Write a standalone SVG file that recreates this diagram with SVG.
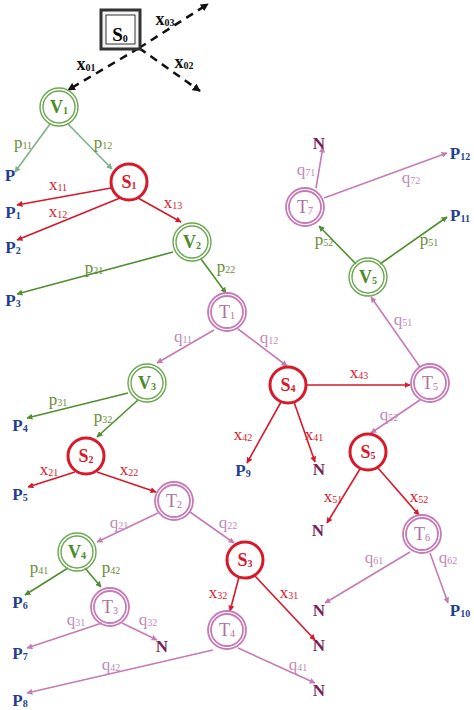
<svg xmlns="http://www.w3.org/2000/svg" width="474" height="710" viewBox="0 0 474 710">
<style>
text{font-family:"Liberation Serif","Times New Roman",serif;text-anchor:middle}
.nl{font-size:18px;font-weight:bold}
.sub{font-size:10px}
.el{font-size:17px}
.pl{font-size:17px;font-weight:bold;fill:#1f3f8f}
.nn{font-size:17px;font-weight:bold;fill:#7a1f5a}
.red{stroke:#d7192a;stroke-width:1.6;fill:none;marker-end:url(#ar)}
.grn{stroke:#4f8f2f;stroke-width:1.6;fill:none;marker-end:url(#ag)}
.lgr{stroke:#7fb08a;stroke-width:1.6;fill:none;marker-end:url(#alg)}
.pnk{stroke:#c77bb5;stroke-width:1.6;fill:none;marker-end:url(#ap)}
.dsh{stroke:#111;stroke-width:2.5;fill:none;stroke-dasharray:8 6;marker-end:url(#ab)}
.sc{fill:#fff;stroke:#d7192a;stroke-width:3}
.vc{fill:none;stroke:#6aa84f;stroke-width:1.4}
.tc{fill:none;stroke:#c77bb5;stroke-width:1.8}
.xl{fill:#d7192a}
.plb{fill:#6b8e3a}
.ql{fill:#c08cb8}
.tl{font-size:18px;fill:#b070a0}
</style>
<defs>
<marker id="ar" viewBox="0 0 10 10" refX="9" refY="5" markerWidth="6" markerHeight="6" orient="auto" markerUnits="userSpaceOnUse"><path d="M0,0L10,5L0,10z" fill="#d7192a"/></marker>
<marker id="ag" viewBox="0 0 10 10" refX="9" refY="5" markerWidth="6" markerHeight="6" orient="auto" markerUnits="userSpaceOnUse"><path d="M0,0L10,5L0,10z" fill="#4f8f2f"/></marker>
<marker id="alg" viewBox="0 0 10 10" refX="9" refY="5" markerWidth="6" markerHeight="6" orient="auto" markerUnits="userSpaceOnUse"><path d="M0,0L10,5L0,10z" fill="#7fb08a"/></marker>
<marker id="ap" viewBox="0 0 10 10" refX="9" refY="5" markerWidth="6" markerHeight="6" orient="auto" markerUnits="userSpaceOnUse"><path d="M0,0L10,5L0,10z" fill="#c77bb5"/></marker>
<marker id="ab" viewBox="0 0 10 10" refX="9" refY="5" markerWidth="8" markerHeight="8" orient="auto" markerUnits="userSpaceOnUse"><path d="M0,0L10,5L0,10z" fill="#111"/></marker>
</defs>
<rect width="474" height="710" fill="#fff"/>
<g id="connectors">
<path class="dsh" d="M139,48L208,4"/>
<path class="dsh" d="M139,48L68,90"/>
<path class="dsh" d="M139,48L200,91"/>
<path class="lgr" d="M50,124L15,172"/>
<path class="lgr" d="M68,124L112,169"/>
<path class="red" d="M111,188L17,205"/>
<path class="red" d="M120,198L17,240"/>
<path class="red" d="M138,198L181,222"/>
<path class="grn" d="M173,252L17,294"/>
<path class="grn" d="M201,259L226,293"/>
<path class="pnk" d="M214,330L157,363"/>
<path class="pnk" d="M238,329L287,366"/>
<path class="grn" d="M128,393L27,418"/>
<path class="grn" d="M138,400L97,437"/>
<path class="red" d="M75,472L28,487"/>
<path class="red" d="M97,472L156,492"/>
<path class="pnk" d="M158,513L97,542"/>
<path class="pnk" d="M190,512L234,543"/>
<path class="grn" d="M68,568L25,595"/>
<path class="grn" d="M85,568L101,587"/>
<path class="pnk" d="M102,623L27,648"/>
<path class="pnk" d="M122,623L157,640"/>
<path class="red" d="M239,577L230,611"/>
<path class="red" d="M255,576L315,640"/>
<path class="pnk" d="M213,650L27,693"/>
<path class="pnk" d="M238,648L315,683"/>
<path class="red" d="M306,385L410,385"/>
<path class="red" d="M281,402L247,463"/>
<path class="red" d="M294,402L315,462"/>
<path class="pnk" d="M420,367L371,297"/>
<path class="pnk" d="M420,400L371,433"/>
<path class="red" d="M360,469L327,523"/>
<path class="red" d="M378,468L419,515"/>
<path class="pnk" d="M410,552L325,603"/>
<path class="pnk" d="M430,553L448,603"/>
<path class="grn" d="M356,264L319,226"/>
<path class="grn" d="M380,264L447,217"/>
<path class="pnk" d="M316,188L323,147"/>
<path class="pnk" d="M324,198L447,153"/>
</g>
<g id="S0">
<rect x="101" y="10" width="39" height="39" fill="#f4f4f4" stroke="#333" stroke-width="3"/>
<rect x="106" y="15" width="29" height="29" fill="#fff" stroke="#333" stroke-width="1"/>
<text x="120" y="41" style="font-size:19px;font-weight:bold">S<tspan class="sub" dy="1">0</tspan></text>
</g>
<g id="V1"><circle class="vc" cx="59" cy="107" r="19"/><circle class="vc" cx="59" cy="107" r="16"/><text class="nl" x="59" y="113" fill="#4a8a2a">V<tspan class="sub" dy="1">1</tspan></text></g>
<g id="S1"><circle class="sc" cx="129" cy="182" r="18"/><text class="nl" x="129" y="188" fill="#d7192a">S<tspan class="sub" dy="1">1</tspan></text></g>
<g id="V2"><circle class="vc" cx="192" cy="242" r="19"/><circle class="vc" cx="192" cy="242" r="16"/><text class="nl" x="192" y="248" fill="#4a8a2a">V<tspan class="sub" dy="1">2</tspan></text></g>
<g id="T1"><circle class="tc" cx="227" cy="312" r="19"/><circle class="tc" cx="227" cy="312" r="16"/><text class="tl" x="227" y="318">T<tspan class="sub" dy="1">1</tspan></text></g>
<g id="V3"><circle class="vc" cx="147" cy="383" r="19"/><circle class="vc" cx="147" cy="383" r="16"/><text class="nl" x="147" y="389" fill="#4a8a2a">V<tspan class="sub" dy="1">3</tspan></text></g>
<g id="S4"><circle class="sc" cx="288" cy="385" r="18"/><text class="nl" x="288" y="391" fill="#d7192a">S<tspan class="sub" dy="1">4</tspan></text></g>
<g id="T5"><circle class="tc" cx="430" cy="383" r="19"/><circle class="tc" cx="430" cy="383" r="16"/><text class="tl" x="430" y="389">T<tspan class="sub" dy="1">5</tspan></text></g>
<g id="V5"><circle class="vc" cx="368" cy="277" r="19"/><circle class="vc" cx="368" cy="277" r="16"/><text class="nl" x="368" y="283" fill="#4a8a2a">V<tspan class="sub" dy="1">5</tspan></text></g>
<g id="T7"><circle class="tc" cx="305" cy="207" r="19"/><circle class="tc" cx="305" cy="207" r="16"/><text class="tl" x="305" y="213">T<tspan class="sub" dy="1">7</tspan></text></g>
<g id="S2"><circle class="sc" cx="86" cy="456" r="18"/><text class="nl" x="86" y="462" fill="#d7192a">S<tspan class="sub" dy="1">2</tspan></text></g>
<g id="T2"><circle class="tc" cx="174" cy="501" r="19"/><circle class="tc" cx="174" cy="501" r="16"/><text class="tl" x="174" y="507">T<tspan class="sub" dy="1">2</tspan></text></g>
<g id="S5"><circle class="sc" cx="368" cy="452" r="18"/><text class="nl" x="368" y="458" fill="#d7192a">S<tspan class="sub" dy="1">5</tspan></text></g>
<g id="V4"><circle class="vc" cx="77" cy="552" r="19"/><circle class="vc" cx="77" cy="552" r="16"/><text class="nl" x="77" y="558" fill="#4a8a2a">V<tspan class="sub" dy="1">4</tspan></text></g>
<g id="S3"><circle class="sc" cx="245" cy="560" r="18"/><text class="nl" x="245" y="566" fill="#d7192a">S<tspan class="sub" dy="1">3</tspan></text></g>
<g id="T3"><circle class="tc" cx="110" cy="607" r="19"/><circle class="tc" cx="110" cy="607" r="16"/><text class="tl" x="110" y="613">T<tspan class="sub" dy="1">3</tspan></text></g>
<g id="T4"><circle class="tc" cx="227" cy="630" r="19"/><circle class="tc" cx="227" cy="630" r="16"/><text class="tl" x="227" y="636">T<tspan class="sub" dy="1">4</tspan></text></g>
<g id="T6"><circle class="tc" cx="422" cy="534" r="19"/><circle class="tc" cx="422" cy="534" r="16"/><text class="tl" x="422" y="540">T<tspan class="sub" dy="1">6</tspan></text></g>
<g id="terminals">
<text class="pl" x="10" y="181">P</text>
<text class="pl" x="13" y="218">P<tspan class="sub" dy="1">1</tspan></text>
<text class="pl" x="13" y="253">P<tspan class="sub" dy="1">2</tspan></text>
<text class="pl" x="13" y="306">P<tspan class="sub" dy="1">3</tspan></text>
<text class="pl" x="20" y="431">P<tspan class="sub" dy="1">4</tspan></text>
<text class="pl" x="20" y="500">P<tspan class="sub" dy="1">5</tspan></text>
<text class="pl" x="20" y="608">P<tspan class="sub" dy="1">6</tspan></text>
<text class="pl" x="20" y="659">P<tspan class="sub" dy="1">7</tspan></text>
<text class="pl" x="20" y="706">P<tspan class="sub" dy="1">8</tspan></text>
<text class="pl" x="243" y="476">P<tspan class="sub" dy="1">9</tspan></text>
<text class="pl" x="460" y="616">P<tspan class="sub" dy="1">10</tspan></text>
<text class="pl" x="460" y="221">P<tspan class="sub" dy="1">11</tspan></text>
<text class="pl" x="460" y="159">P<tspan class="sub" dy="1">12</tspan></text>
<text class="nn" x="319" y="149">N</text>
<text class="nn" x="319" y="475">N</text>
<text class="nn" x="318" y="536">N</text>
<text class="nn" x="319" y="616">N</text>
<text class="nn" x="162" y="652">N</text>
<text class="nn" x="319" y="651">N</text>
<text class="nn" x="319" y="696">N</text>
</g>
<g id="labels">
<text x="165" y="25" style="font-size:18px;font-weight:bold" fill="#111">x<tspan class="sub" dy="1">03</tspan></text>
<text x="86" y="70" style="font-size:18px;font-weight:bold" fill="#111">x<tspan class="sub" dy="1">01</tspan></text>
<text x="184" y="68" style="font-size:18px;font-weight:bold" fill="#111">x<tspan class="sub" dy="1">02</tspan></text>
<text class="el plb" x="23" y="148">p<tspan class="sub" dy="1">11</tspan></text>
<text class="el plb" x="103" y="148">p<tspan class="sub" dy="1">12</tspan></text>
<text class="el xl" x="58" y="190">x<tspan class="sub" dy="1">11</tspan></text>
<text class="el xl" x="58" y="217">x<tspan class="sub" dy="1">12</tspan></text>
<text class="el xl" x="173" y="208">x<tspan class="sub" dy="1">13</tspan></text>
<text class="el plb" x="94" y="273">p<tspan class="sub" dy="1">21</tspan></text>
<text class="el plb" x="226" y="272">p<tspan class="sub" dy="1">22</tspan></text>
<text class="el ql" x="183" y="342">q<tspan class="sub" dy="1">11</tspan></text>
<text class="el ql" x="269" y="343">q<tspan class="sub" dy="1">12</tspan></text>
<text class="el plb" x="58" y="405">p<tspan class="sub" dy="1">31</tspan></text>
<text class="el plb" x="103" y="422">p<tspan class="sub" dy="1">32</tspan></text>
<text class="el xl" x="49" y="475">x<tspan class="sub" dy="1">21</tspan></text>
<text class="el xl" x="129" y="475">x<tspan class="sub" dy="1">22</tspan></text>
<text class="el ql" x="119" y="528">q<tspan class="sub" dy="1">21</tspan></text>
<text class="el ql" x="228" y="528">q<tspan class="sub" dy="1">22</tspan></text>
<text class="el plb" x="39" y="573">p<tspan class="sub" dy="1">41</tspan></text>
<text class="el plb" x="111" y="573">p<tspan class="sub" dy="1">42</tspan></text>
<text class="el ql" x="76" y="625">q<tspan class="sub" dy="1">31</tspan></text>
<text class="el ql" x="148" y="625">q<tspan class="sub" dy="1">32</tspan></text>
<text class="el ql" x="111" y="670">q<tspan class="sub" dy="1">42</tspan></text>
<text class="el ql" x="298" y="670">q<tspan class="sub" dy="1">41</tspan></text>
<text class="el xl" x="218" y="598">x<tspan class="sub" dy="1">32</tspan></text>
<text class="el xl" x="289" y="598">x<tspan class="sub" dy="1">31</tspan></text>
<text class="el xl" x="359" y="378">x<tspan class="sub" dy="1">43</tspan></text>
<text class="el xl" x="243" y="440">x<tspan class="sub" dy="1">42</tspan></text>
<text class="el xl" x="314" y="440">x<tspan class="sub" dy="1">41</tspan></text>
<text class="el ql" x="403" y="325">q<tspan class="sub" dy="1">51</tspan></text>
<text class="el ql" x="389" y="420">q<tspan class="sub" dy="1">52</tspan></text>
<text class="el xl" x="333" y="502">x<tspan class="sub" dy="1">51</tspan></text>
<text class="el xl" x="419" y="502">x<tspan class="sub" dy="1">52</tspan></text>
<text class="el ql" x="374" y="563">q<tspan class="sub" dy="1">61</tspan></text>
<text class="el ql" x="448" y="563">q<tspan class="sub" dy="1">62</tspan></text>
<text class="el plb" x="324" y="245">p<tspan class="sub" dy="1">52</tspan></text>
<text class="el plb" x="429" y="245">p<tspan class="sub" dy="1">51</tspan></text>
<text class="el ql" x="306" y="175">q<tspan class="sub" dy="1">71</tspan></text>
<text class="el ql" x="411" y="183">q<tspan class="sub" dy="1">72</tspan></text>
</g>
</svg>
